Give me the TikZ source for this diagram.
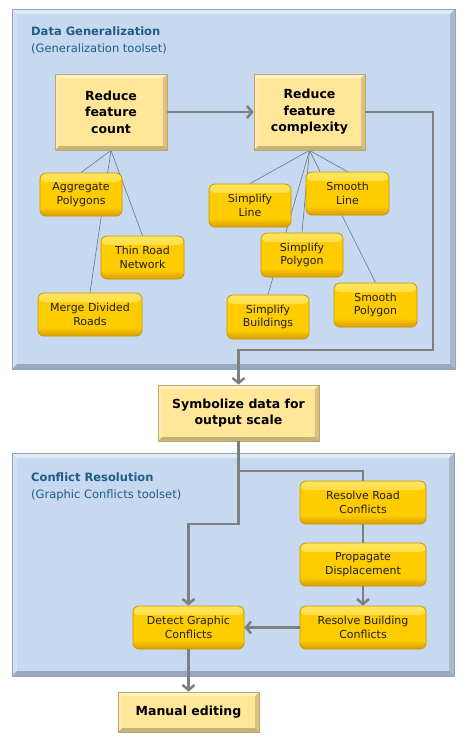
\documentclass[tikz,border=0pt]{standalone}
\usepackage{fontspec}
\setmainfont{DejaVu Sans}
\usepackage{xcolor}
\usetikzlibrary{arrows.meta}
\usetikzlibrary{backgrounds}
\usetikzlibrary{calc}
\definecolor{panelblue}{HTML}{C6D9F1}
\definecolor{paneledge}{HTML}{8FA7C6}
\definecolor{titleblue}{HTML}{215C85}
\definecolor{stepyellow}{HTML}{FFE699}
\definecolor{stepedge}{HTML}{BFA862}
\definecolor{toolgold}{HTML}{FFCC00}
\definecolor{tooltop}{HTML}{FFE45C}
\definecolor{toolbottom}{HTML}{D99E00}
\definecolor{tooledge}{HTML}{C99800}
\definecolor{flowgray}{HTML}{7F7F7F}
\definecolor{twiggray}{HTML}{6A7786}
\tikzset{bevel/.style={path picture={
   \fill[white,opacity=.45] (path picture bounding box.north west) -- (path picture bounding box.north east)
     -- ($(path picture bounding box.north east)+(-#1,-#1)$) -- ($(path picture bounding box.north west)+(#1,-#1)$) -- cycle;
   \fill[white,opacity=.2] (path picture bounding box.north west) -- (path picture bounding box.south west)
     -- ($(path picture bounding box.south west)+(#1,#1)$) -- ($(path picture bounding box.north west)+(#1,-#1)$) -- cycle;
   \fill[black,opacity=.22] (path picture bounding box.south west) -- (path picture bounding box.south east)
     -- ($(path picture bounding box.south east)+(-#1,#1)$) -- ($(path picture bounding box.south west)+(#1,#1)$) -- cycle;
   \fill[black,opacity=.15] (path picture bounding box.north east) -- (path picture bounding box.south east)
     -- ($(path picture bounding box.south east)+(-#1,#1)$) -- ($(path picture bounding box.north east)+(-#1,-#1)$) -- cycle;
  }},
 panel/.style={draw=paneledge,line width=0.8pt,fill=panelblue,bevel=5pt},
 paneltitle/.style={anchor=north west,align=left,inner sep=0pt,text=titleblue,font=\fontsize{11.5}{16.5}\selectfont},
 stepbox/.style={draw=stepedge,line width=0.8pt,fill=stepyellow,bevel=4pt,align=center,inner sep=0pt,
  font=\bfseries\fontsize{12.5}{16.5}\selectfont},
 toolbox/.style={draw=tooledge,line width=0.8pt,rounded corners=6pt,fill=toolgold,
  path picture={
   \shade[top color=tooltop,bottom color=toolgold] (path picture bounding box.north west)
     rectangle ($(path picture bounding box.north east)+(0,-9pt)$);
   \shade[top color=toolgold,bottom color=toolbottom] ($(path picture bounding box.south west)+(0,9pt)$)
     rectangle (path picture bounding box.south east);
  },
  minimum width=82pt,minimum height=43pt,align=center,inner sep=0pt,text=black!88,
  font=\fontsize{11}{13.3}\selectfont},
 flow/.style={draw=flowgray,line width=2.5pt},
 flowarrow/.style={flow,-{Straight Barb[length=5pt,width=12pt]}},
 twig/.style={draw=twiggray,line width=0.6pt},
}

\begin{document}
\begin{tikzpicture}[x=1pt,y=-1pt]
    \useasboundingbox (0,0) rectangle (467,741);
    % generalization steps
    \node[stepbox,minimum width=112pt,minimum height=76pt] (count) at (111,112) {Reduce\\feature\\count};
    \node[stepbox,minimum width=111pt,minimum height=76pt] (complexity) at (309.5,112) {Reduce\\feature\\complexity};
    \node[toolbox] (aggregate) at (81,194.5) {Aggregate\\Polygons};
    \node[toolbox,minimum width=83pt] (thinroad) at (142.5,257.5) {Thin Road\\Network};
    \node[toolbox,minimum width=104pt] (merge) at (90,314.5) {Merge Divided\\Roads};
    \node[toolbox] (simpline) at (250,205.5) {Simplify\\Line};
    \node[toolbox,minimum width=83pt] (smoothline) at (347.5,193.5) {Smooth\\Line};
    \node[toolbox,minimum height=44pt] (simppoly) at (302,255) {Simplify\\Polygon};
    \node[toolbox,minimum height=44pt] (simpbuild) at (268,317) {Simplify\\Buildings};
    \node[toolbox,minimum width=83pt,minimum height=44pt] (smoothpoly) at (375.5,305) {Smooth\\Polygon};
    % output and conflicts
    \node[stepbox,minimum width=161pt,minimum height=56pt] (symbolize) at (238.5,413) {Symbolize data for\\output scale};
    \node[toolbox,minimum width=126pt] (resroad) at (363,502.5) {Resolve Road\\Conflicts};
    \node[toolbox,minimum width=126pt] (propagate) at (363,564.5) {Propagate\\Displacement};
    \node[toolbox,minimum width=126pt] (resbuild) at (363,627.5) {Resolve Building\\Conflicts};
    \node[toolbox,minimum width=111pt] (detect) at (188.5,627.5) {Detect Graphic\\Conflicts};
    \node[stepbox,minimum width=141pt,minimum height=40pt] (manual) at (188.5,712) {Manual editing};

    \begin{scope}[on background layer]
        \node[panel,minimum width=443pt,minimum height=360pt] (genpanel) at (233.5,189) {};
        \node[panel,minimum width=442pt,minimum height=223pt] (conflictpanel) at (233,564.5) {};
        \foreach \t in {aggregate, thinroad, merge}
            \draw[twig] (count.south) -- (\t.north);
        \foreach \t in {simpline, smoothline, simppoly, simpbuild, smoothpoly}
            \draw[twig] (complexity.south) -- (\t.north);
    \end{scope}

    \node[paneltitle] (gentitle) at (31,27) {\textbf{Data Generalization}\\(Generalization toolset)};
    \node[paneltitle] (conflicttitle) at (31,473) {\textbf{Conflict Resolution}\\(Graphic Conflicts toolset)};

    \coordinate (loopturn) at (433,350);
    \coordinate (forkroad) at (238.5,471);
    \coordinate (benddetect) at (188.5,524);
    \draw[flowarrow] (count.east) -- (complexity.west);
    \draw[flowarrow] (complexity.east) -| (loopturn) -| (symbolize.north);
    \draw[flowarrow] (symbolize.south) |- (benddetect) -- (detect.north);
    \draw[flow] (forkroad) -| (resroad.north);
    \draw[flow] (resroad.south) -- (propagate.north);
    \draw[flowarrow] (propagate.south) -- (resbuild.north);
    \draw[flowarrow] (resbuild.west) -- (detect.east);
    \draw[flowarrow] (detect.south) -- (manual.north);
\end{tikzpicture}
\end{document}
